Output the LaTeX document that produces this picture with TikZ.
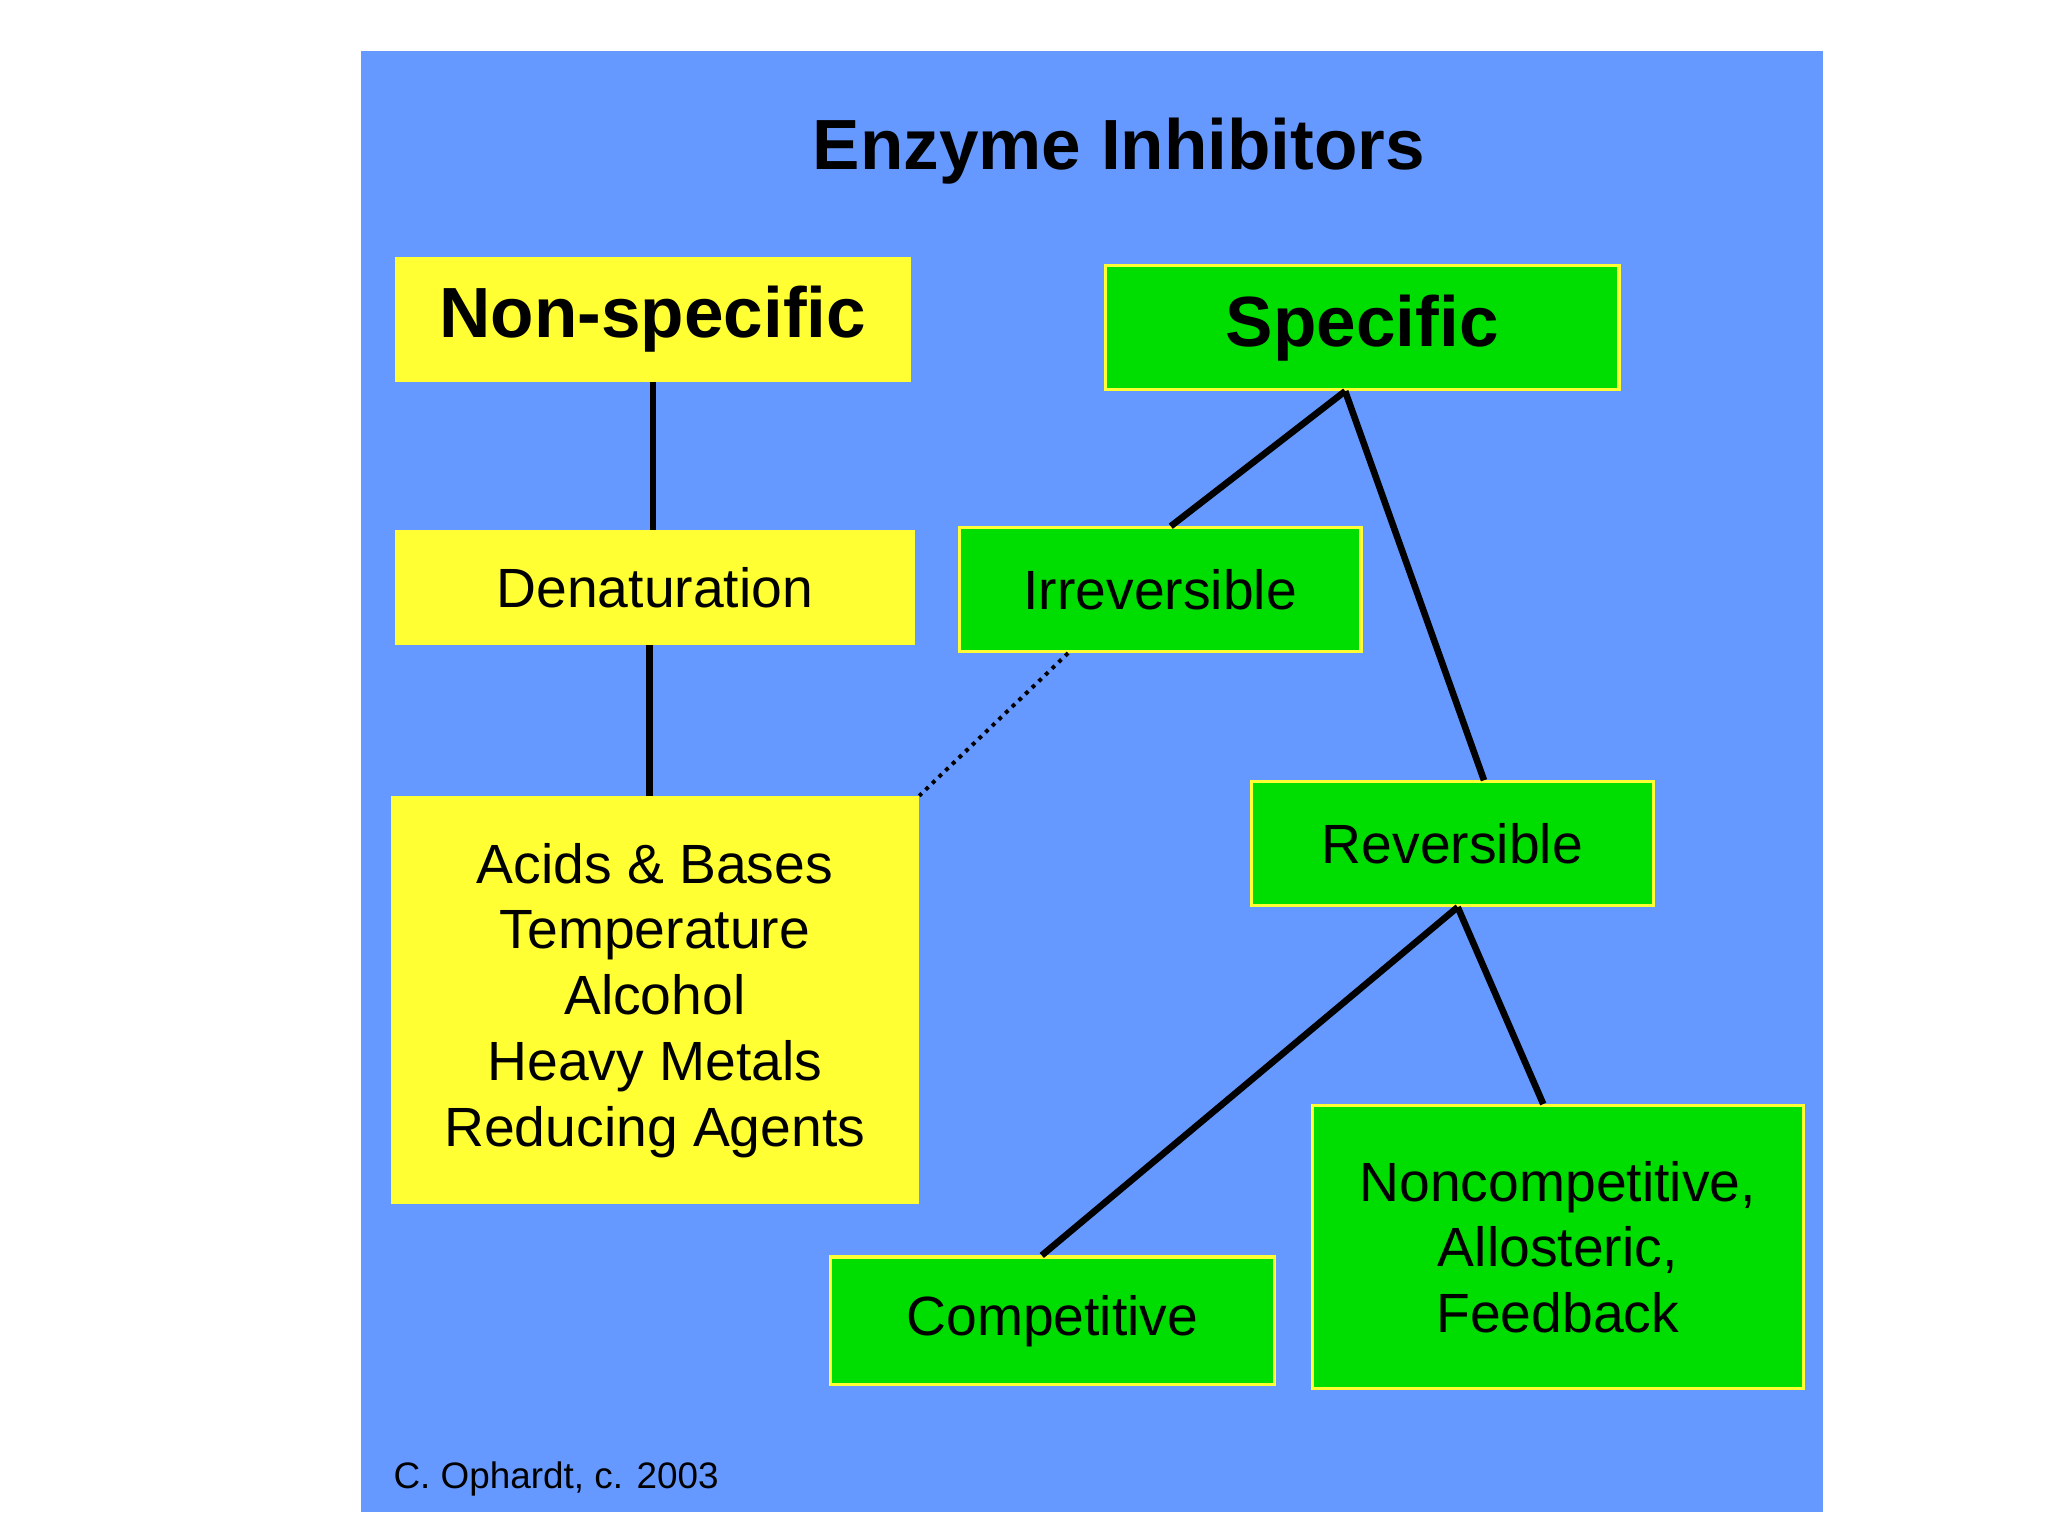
\documentclass[tikz,border=0pt]{standalone}
\usepackage{fontspec}
\setmainfont{Liberation Sans}
\definecolor{bg}{HTML}{6699FF}
\definecolor{yb}{HTML}{FFFF33}
\definecolor{gb}{HTML}{00DD00}
\begin{document}
\begin{tikzpicture}[x=0.5pt,y=-0.5pt,
 ybox/.style={fill=yb,inner sep=0pt,align=center,font=\fontsize{21}{25}\selectfont},
 gbox/.style={fill=gb,draw=yb,line width=1.2pt,inner sep=0pt,align=center,font=\fontsize{21}{25}\selectfont},
 link/.style={line width=2.5pt}]
\useasboundingbox (0,0) rectangle (1556,1167);
\fill[bg] (274,39) rectangle (1385,1149);
\node (title) at (850,115) {\fontsize{27}{30}\selectfont\bfseries Enzyme Inhibitors};
\node[ybox,minimum width=196pt,minimum height=47.5pt,font=\fontsize{27}{30}\selectfont\bfseries] (ns) at (496,242.5) {Non-specific};
\node[gbox,minimum width=195pt,minimum height=47pt,font=\fontsize{27}{30}\selectfont\bfseries] (sp) at (1035,249) {Specific};
\node[ybox,minimum width=197.5pt,minimum height=43.5pt] (den) at (497.5,446.5) {Denaturation};
\node[gbox,minimum width=152.5pt,minimum height=47pt] (irr) at (881.5,448) {Irreversible};
\node[ybox,minimum width=200.5pt,minimum height=155pt,font=\fontsize{21}{25}\selectfont] (list) at (497.5,760) {Acids \& Bases\\Temperature\\Alcohol\\Heavy Metals\\Reducing Agents};
\node[gbox,minimum width=152.5pt,minimum height=47pt] (rev) at (1103.5,641) {Reversible};
\node[gbox,minimum width=168.5pt,minimum height=48.5pt] (comp) at (799.5,1003.5) {Competitive};
\node[gbox,minimum width=186.5pt,minimum height=107.5pt] (nonc) at (1183.5,947.5) {Noncompetitive,\\Allosteric,\\Feedback};
\node[anchor=west,font=\fontsize{14}{16}\selectfont] (cr) at (292,1124) {C. Ophardt, c. 2003};
\draw[link] (ns.south) -- (ns.south |- den.north);
\draw[link] ([xshift=-2pt]den.south) -- ([xshift=-2pt]den.south |- list.north);
\draw[link] ([xshift=-6.5pt]sp.south) -- ([xshift=4pt]irr.north);
\draw[link] ([xshift=-6.5pt]sp.south) -- ([xshift=12pt]rev.north);
\draw[link] ([xshift=2pt]rev.south) -- ([xshift=-4pt]comp.north);
\draw[link] ([xshift=2pt]rev.south) -- ([xshift=-5.5pt]nonc.north);
\draw[line width=1.5pt,dotted] ([xshift=-35pt]irr.south) -- (list.north east);
\end{tikzpicture}
\end{document}
